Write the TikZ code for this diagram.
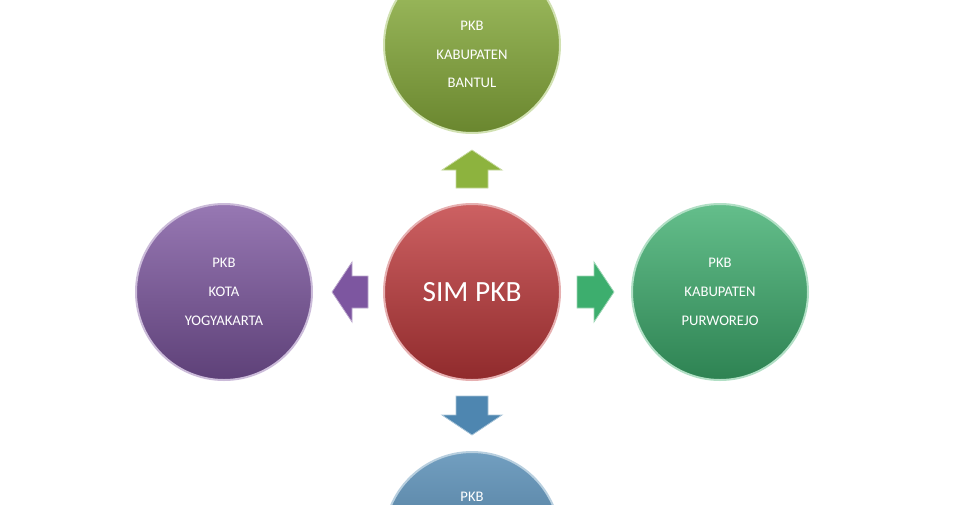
\documentclass[tikz,border=0pt]{standalone}
\usepackage{fontspec}
\setmainfont{Carlito}
\begin{document}
\begin{tikzpicture}[x=0.75pt,y=-0.75pt]
\definecolor{cg}{HTML}{8DB33E}\definecolor{cr}{HTML}{C0393B}
\definecolor{cp}{HTML}{7D56A0}\definecolor{cgr}{HTML}{3DAE6E}
\definecolor{cb}{HTML}{4E86B0}
\tikzset{ball/.style={circle,minimum size=176*0.75pt,inner sep=0pt,draw=#1!40!white,line width=1.5pt,top color=#1!80!white,bottom color=#1!75!black,text=white,align=center,font=\fontsize{11}{21.5}\selectfont},
arr/.style={fill=#1,draw=#1!50!white,line width=0.6pt}}
\useasboundingbox (0,0) rectangle (960,504);
\begin{scope}
\clip (0,0) rectangle (960,504);
\node[ball=cg] (t) at (472,45) {\\PKB\\KABUPATEN\\BANTUL};
\node[ball=cr,font=\fontsize{22}{26}\selectfont] (c) at (472,292) {SIM PKB};
\node[ball=cp] (l) at (224,292) {PKB\\KOTA\\YOGYAKARTA};
\node[ball=cgr] (r) at (720,292) {PKB\\KABUPATEN\\PURWOREJO};
\node[ball=cb] (b) at (472,540) {PKB\\~\\~\\~};
\end{scope}
\draw[arr=cg] (472,150) -- (502,170) -- (488,170) -- (488,188) -- (456,188) -- (456,170) -- (442,170) -- cycle;
\draw[arr=cb] (472,435) -- (502,415) -- (488,415) -- (488,396) -- (456,396) -- (456,415) -- (442,415) -- cycle;
\draw[arr=cp] (332,292) -- (352,262) -- (352,276) -- (368,276) -- (368,308) -- (352,308) -- (352,322) -- cycle;
\draw[arr=cgr] (614,292) -- (594,262) -- (594,276) -- (577,276) -- (577,308) -- (594,308) -- (594,322) -- cycle;
\end{tikzpicture}
\end{document}
